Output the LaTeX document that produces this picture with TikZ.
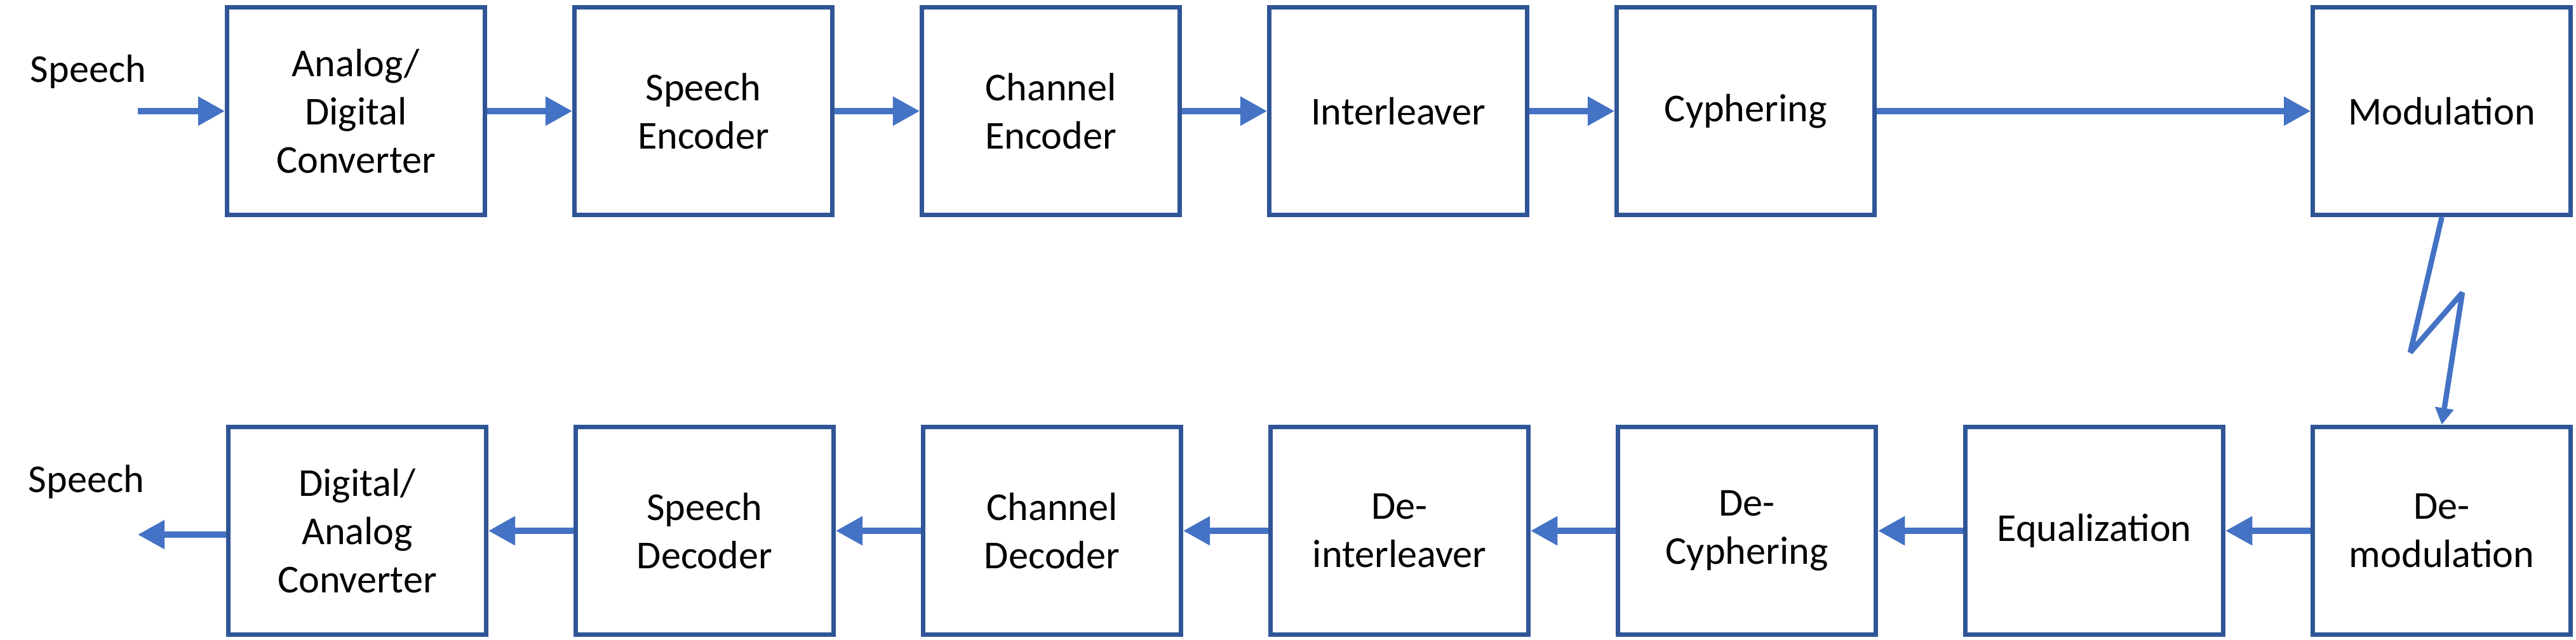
\documentclass[tikz,border=0pt]{standalone}
\usepackage{fontspec}
\setmainfont{Carlito}
\usepackage{tikz}
\usetikzlibrary{arrows.meta,positioning}
\definecolor{boxblue}{HTML}{2F5597}
\definecolor{flowblue}{HTML}{4472C4}

\begin{document}
\begin{tikzpicture}[every node/.style={font=\fontsize{17.7}{21.6}\selectfont,align=center},block/.style={draw=boxblue,line width=2pt,minimum width=4.06cm,minimum height=3.27cm},flow/.style={draw=flowblue,line width=2.6pt,-{Triangle[length=12pt,width=12.5pt]}}]
\useasboundingbox (0,0) rectangle (40.56,10.08);
\node[block] (adc) at (5.605,8.33) {Analog/\\ Digital\\ Converter};
\node[block,right=1.34cm of adc] (senc) {Speech\\ Encoder};
\node[block,right=1.34cm of senc] (cenc) {Channel\\ Encoder};
\node[block,right=1.34cm of cenc] (ilv) {Interleaver};
\node[block,right=1.34cm of ilv] (cyph) {Cyphering};
\node[block,right=6.83cm of cyph] (mod) {Modulation};
\node[block,below=3.27cm of mod] (demod) {De-\\ modulation};
\node[block,left=1.34cm of demod] (eq) {Equalization};
\node[block,left=1.34cm of eq] (decyph) {De-\\ Cyphering};
\node[block,left=1.34cm of decyph] (deilv) {De-\\ interleaver};
\node[block,left=1.34cm of deilv] (cdec) {Channel\\ Decoder};
\node[block,left=1.34cm of cdec] (sdec) {Speech\\ Decoder};
\node[block,left=1.34cm of sdec] (dac) {Digital/\\ Analog\\ Converter};
\node (spin) at (1.39,8.95) {Speech};
\node (spout) at (1.36,2.49) {Speech};
\coordinate (inpt) at (2.17,8.33);
\coordinate (outpt) at (2.17,1.66);
\draw[flow] (inpt)--(adc);
\draw[flow] (adc)--(senc);
\draw[flow] (senc)--(cenc);
\draw[flow] (cenc)--(ilv);
\draw[flow] (ilv)--(cyph);
\draw[flow] (cyph)--(mod);
\draw[flow] (demod)--(eq);
\draw[flow] (eq)--(decyph);
\draw[flow] (decyph)--(deilv);
\draw[flow] (deilv)--(cdec);
\draw[flow] (cdec)--(sdec);
\draw[flow] (sdec)--(dac);
\draw[flow] (dac.west|-outpt)--(outpt);
\draw[draw=flowblue,line width=2.4pt,line join=bevel,-{Triangle[length=7.5pt,width=8pt]}] (mod.south)--(37.95,4.53)--(38.77,5.47)--(demod.north);
\end{tikzpicture}
\end{document}
